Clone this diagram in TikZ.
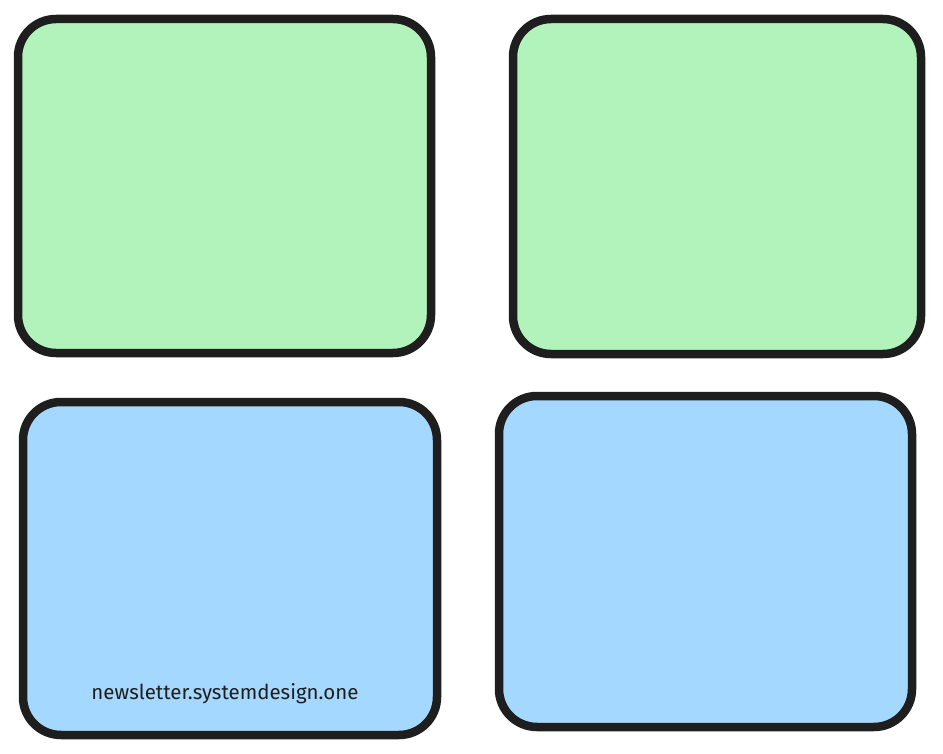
\documentclass[tikz,border=0pt]{standalone}
\usepackage{fontspec}
\newfontfamily\handfont{Fira Sans}
\definecolor{boxgreen}{HTML}{B2F2BB}
\definecolor{boxblue}{HTML}{A5D8FF}
\definecolor{ink}{HTML}{1E1E1E}
\begin{document}
\begin{tikzpicture}[x=1pt,y=-1pt,
  card/.style={draw=ink, line width=8.5pt, rounded corners=38pt, line join=round},
  greencard/.style={card, fill=boxgreen},
  bluecard/.style={card, fill=boxblue},
  note/.style={font=\handfont\fontsize{17}{20}\selectfont, text=ink, inner sep=0pt}]
\useasboundingbox[fill=white] (0,0) rectangle (943,754);
\draw[greencard] (18,19) rectangle (431,353);
\draw[greencard] (513,19) rectangle (921,354);
\draw[bluecard] (23,402) rectangle (437,735);
\draw[bluecard] (499,396) rectangle (912,727);
\node[note] (credit) at (225,694) {\resizebox{267pt}{16pt}{newsletter.systemdesign.one}};
\end{tikzpicture}
\end{document}
